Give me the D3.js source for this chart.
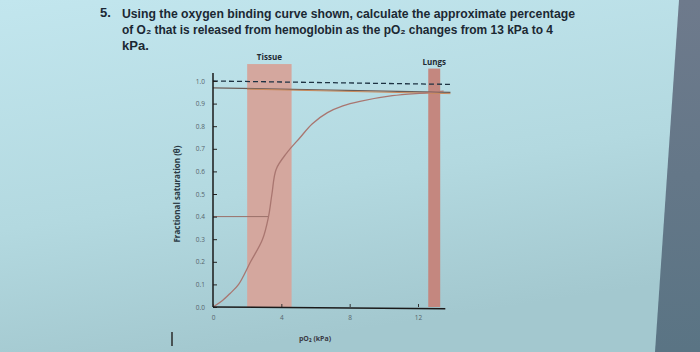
<!DOCTYPE html>
<html>
<head>
<meta charset="utf-8">
<script src="https://cdn.jsdelivr.net/npm/d3@7"></script>
<style>
  html, body { margin: 0; padding: 0; background: #b9dde3; }
  #chart { width: 700px; height: 352px; }
  text { font-family: "Open Sans", "DejaVu Sans", sans-serif; }
</style>
</head>
<body>
<div id="chart"></div>
<script>
// curve
const pO2 = [0, 0.5, 1, 1.5, 2.2, 2.9, 3.25, 3.45, 3.7, 4.3, 5.1, 5.8, 6.7, 7.6, 8.6, 10.5, 12.5, 13.5];
const saturation = [0, 0.025, 0.06, 0.1, 0.2, 0.3, 0.4, 0.5, 0.61, 0.68, 0.75, 0.81, 0.86, 0.89, 0.91, 0.935, 0.948, 0.955];

const yTicks = [0, 0.1, 0.2, 0.3, 0.4, 0.5, 0.6, 0.7, 0.8, 0.9, 1.0];
const xTicks = [0, 4, 8, 12];

const bands = [
    { name: 'Tissue', from: 2.0, to: 4.6, top: 1.075, color: '#d4a79e' },
    { name: 'Lungs', from: 12.6, to: 13.3, top: 1.055, color: '#c4877f' }
];

const maxLine = 1.0;     // dashed
const lungLine = 0.97;   // solid
const releaseLevel = 0.4; // at tissue pO2
const releaseP = 3.25;

const question = [
    'Using the oxygen binding curve shown, calculate the approximate percentage',
    'of O\u2082 that is released from hemoglobin as the pO\u2082 changes from 13 kPa to 4',
    'kPa.'
];
const qWidths = [453, 431, 0];

const svg = d3.select('#chart').append('svg')
    .attr('width', 700)
    .attr('height', 352);

// photo-like background
const defs = svg.append('defs');
const grad = defs.append('linearGradient')
    .attr('id', 'bg')
    .attr('x1', '0').attr('y1', '0').attr('x2', '0.3').attr('y2', '1');
grad.append('stop').attr('offset', '0').attr('stop-color', '#c2e6ee');
grad.append('stop').attr('offset', '0.6').attr('stop-color', '#b3d9e0');
grad.append('stop').attr('offset', '1').attr('stop-color', '#a3c8cf');

svg.append('rect').attr('width', 700).attr('height', 352).attr('fill', 'url(#bg)');
const dark = defs.append('linearGradient')
    .attr('id', 'dark')
    .attr('x1', '0').attr('y1', '0').attr('x2', '0').attr('y2', '1');
dark.append('stop').attr('offset', '0').attr('stop-color', '#6e7a8c');
dark.append('stop').attr('offset', '1').attr('stop-color', '#5a7484');
svg.append('path')
    .attr('d', 'M679,0 L700,0 L700,352 L655,352 Z')
    .attr('fill', 'url(#dark)');

// question text
const qg = svg.append('g')
    .attr('fill', '#1b2833')
    .style('font-size', '13px')
    .style('font-weight', 700);

qg.append('text').attr('x', 100).attr('y', 17)
    .style('font-family', '"Liberation Sans", sans-serif').text('5.');
question.forEach((str, i) => {
    const t = qg.append('text')
        .attr('x', 122)
        .attr('y', 18 + i * 16)
        .style('font-family', '"Liberation Sans", sans-serif')
        .text(str);
    if (qWidths[i]) t.attr('textLength', qWidths[i]).attr('lengthAdjust', 'spacingAndGlyphs');
});

// scales
const x = d3.scaleLinear().domain([0, 12]).range([213, 418]);
const y = d3.scaleLinear().domain([0, 1]).range([307, 81]);

// bands
svg.selectAll('.band')
    .data(bands)
    .enter()
    .append('rect')
    .attr('class', 'band')
    .attr('x', d => x(d.from))
    .attr('y', d => y(d.top))
    .attr('width', d => x(d.to) - x(d.from))
    .attr('height', d => y(0) - y(d.top))
    .attr('fill', d => d.color);

svg.selectAll('.band-label')
    .data(bands)
    .enter()
    .append('text')
    .attr('class', 'band-label')
    .attr('x', d => (x(d.from) + x(d.to)) / 2)
    .attr('y', d => y(d.top) - 4)
    .attr('text-anchor', 'middle')
    .style('font-size', '8px')
    .style('font-weight', 700)
    .attr('fill', '#1e2a33')
    .text(d => d.name);

// reference lines
svg.append('line')
    .attr('x1', x(0)).attr('x2', x(13.9))
    .attr('y1', y(maxLine)).attr('y2', y(maxLine - 0.015))
    .attr('stroke', '#1d3242')
    .attr('stroke-width', 1.3)
    .attr('stroke-dasharray', '5,3');

svg.append('line')
    .attr('x1', x(0)).attr('x2', x(13.9))
    .attr('y1', y(lungLine)).attr('y2', y(lungLine - 0.02))
    .attr('stroke', '#6b5d58')
    .attr('stroke-width', 1.2);

svg.append('line')
    .attr('x1', x(2.0)).attr('x2', x(13.9))
    .attr('y1', y(lungLine - 0.006)).attr('y2', y(lungLine - 0.026))
    .attr('stroke', '#c98a5c')
    .attr('stroke-width', 1);

svg.append('line')
    .attr('x1', x(0)).attr('x2', x(releaseP))
    .attr('y1', y(releaseLevel)).attr('y2', y(releaseLevel))
    .attr('stroke', '#9a7068')
    .attr('stroke-width', 1);

// curve
const line = d3.line()
    .x((d, i) => x(pO2[i]))
    .y(d => y(d))
    .curve(d3.curveCatmullRom.alpha(0.5));

svg.append('path')
    .datum(saturation)
    .attr('d', line)
    .attr('fill', 'none')
    .attr('stroke', '#a97670')
    .attr('stroke-width', 1.3);

// axes
const yAxis = svg.append('g')
    .attr('transform', `translate(${x(0)},0)`)
    .call(d3.axisLeft(y).tickValues(yTicks).tickFormat(d3.format('.1f')).tickSize(0));
yAxis.select('.domain').remove();
yAxis.selectAll('.tick line').attr('x2', 4).attr('stroke', '#222');
yAxis.selectAll('text')
    .attr('x', -8)
    .attr('fill', '#56646c')
    .style('font-size', '6.5px')
    .style('font-family', '"Open Sans", sans-serif');

svg.append('line')
    .attr('x1', x(0)).attr('x2', x(0))
    .attr('y1', y(1.035)).attr('y2', y(0))
    .attr('stroke', '#1a1a1a')
    .attr('stroke-width', 1.5);

const xAxis = svg.append('g')
    .attr('transform', `translate(0,${y(0)})`)
    .call(d3.axisBottom(x).tickValues(xTicks).tickSize(0));
xAxis.select('.domain').remove();
xAxis.selectAll('.tick line').attr('y2', -3).attr('stroke', '#333');
xAxis.selectAll('text')
    .attr('y', 8)
    .attr('fill', '#56646c')
    .style('font-size', '6.5px')
    .style('font-family', '"Open Sans", sans-serif');

svg.append('line')
    .attr('x1', x(0)).attr('x2', x(13.6))
    .attr('y1', y(0)).attr('y2', y(-0.008))
    .attr('stroke', '#1a1a1a')
    .attr('stroke-width', 1.5);

// axis titles
svg.append('text')
    .attr('transform', `translate(180,${(y(0) + y(1)) / 2}) rotate(-90)`)
    .attr('text-anchor', 'middle')
    .style('font-size', '8px')
    .style('font-weight', 700)
    .attr('fill', '#2a3a45')
    .text('Fractional saturation (\u03b8)');

svg.append('text')
    .attr('x', 315)
    .attr('y', 341)
    .attr('text-anchor', 'middle')
    .style('font-size', '7px')
    .style('font-weight', 700)
    .attr('fill', '#3a3a45')
    .text('pO\u2082 (kPa)');

svg.append('line')
    .attr('x1', 172).attr('x2', 172)
    .attr('y1', 332).attr('y2', 346)
    .attr('stroke', '#2a2a2a')
    .attr('stroke-width', 1.5);
</script>
</body>
</html>
